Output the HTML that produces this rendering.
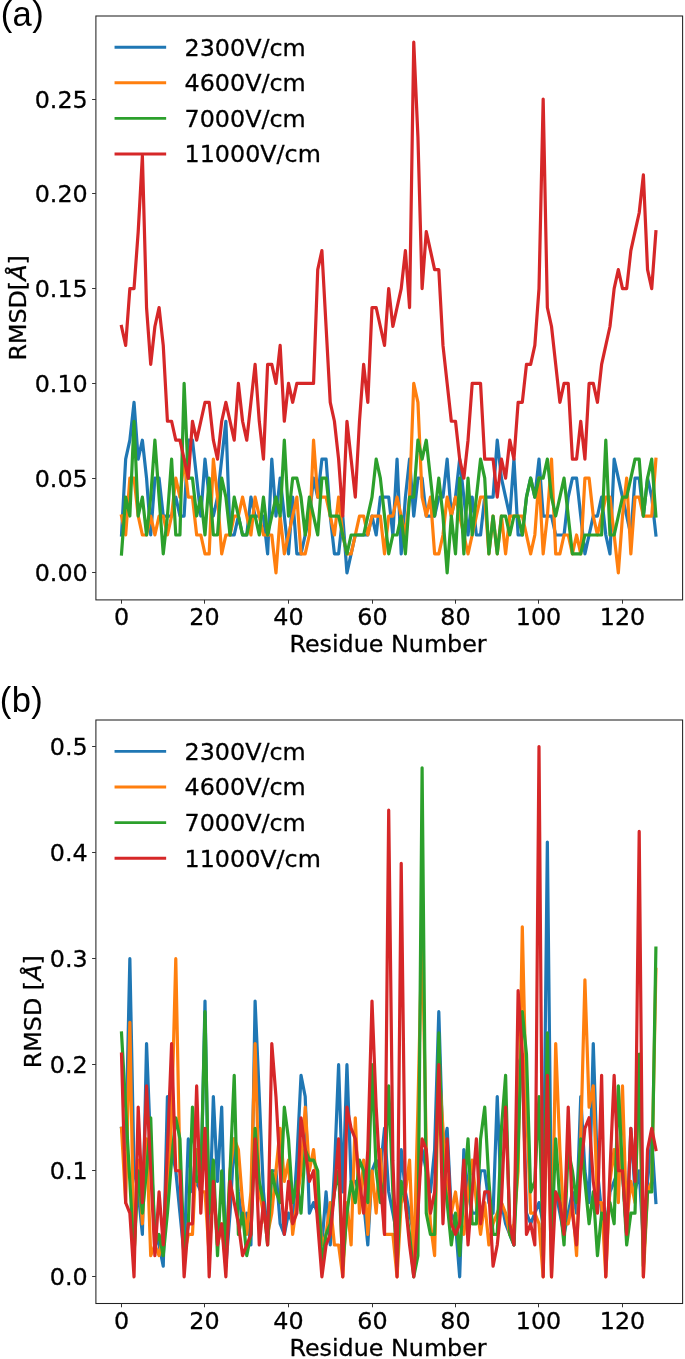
<!DOCTYPE html>
<html><head><meta charset="utf-8"><title>RMSD per residue</title>
<style>
html,body{margin:0;padding:0;background:#fff}
svg{display:block}
svg text{font-family:"DejaVu Sans","Liberation Sans",sans-serif;font-size:23.8px;fill:#000;stroke:#000;stroke-width:0.3px;stroke-linejoin:round}
</style></head><body>
<svg width="685" height="1359" viewBox="0 0 685 1359">
<defs><filter id="soft" x="0" y="0" width="100%" height="100%" filterUnits="userSpaceOnUse" color-interpolation-filters="sRGB"><feGaussianBlur stdDeviation="0.45"/></filter></defs>
<rect width="685" height="1359" fill="#fff"/>
<g filter="url(#soft)">
<polyline points="121.50,534.99 125.67,459.17 129.85,440.21 134.03,402.31 138.20,459.17 142.38,440.21 146.55,478.12 150.72,534.99 154.90,478.12 159.07,478.12 163.25,516.03 167.43,516.03 171.60,516.03 175.78,497.08 179.95,516.03 184.12,516.03 188.30,440.21 192.47,440.21 196.65,478.12 200.82,516.03 205.00,459.17 209.18,497.08 213.35,516.03 217.52,497.08 221.70,459.17 225.88,421.26 230.05,534.99 234.22,534.99 238.40,516.03 242.57,534.99 246.75,534.99 250.92,497.08 255.10,516.03 259.27,516.03 263.45,516.03 267.62,553.94 271.80,459.17 275.98,516.03 280.15,478.12 284.32,516.03 288.50,553.94 292.67,497.08 296.85,553.94 301.02,553.94 305.20,534.99 309.38,516.03 313.55,478.12 317.73,497.08 321.90,459.17 326.07,459.17 330.25,516.03 334.42,553.94 338.60,553.94 342.77,516.03 346.95,572.90 351.12,553.94 355.30,534.99 359.48,534.99 363.65,534.99 367.82,534.99 372.00,516.03 376.17,534.99 380.35,497.08 384.52,497.08 388.70,497.08 392.88,534.99 397.05,459.17 401.22,553.94 405.40,497.08 409.57,459.17 413.75,516.03 417.93,478.12 422.10,478.12 426.27,516.03 430.45,516.03 434.62,516.03 438.80,497.08 442.97,497.08 447.15,459.17 451.32,516.03 455.50,497.08 459.68,459.17 463.85,497.08 468.02,534.99 472.20,497.08 476.38,534.99 480.55,534.99 484.72,497.08 488.90,497.08 493.07,497.08 497.25,440.21 501.43,478.12 505.60,497.08 509.77,516.03 513.95,459.17 518.12,534.99 522.30,534.99 526.47,497.08 530.65,478.12 534.83,497.08 539.00,459.17 543.17,516.03 547.35,516.03 551.52,516.03 555.70,534.99 559.88,534.99 564.05,534.99 568.22,497.08 572.40,478.12 576.58,478.12 580.75,516.03 584.92,553.94 589.10,534.99 593.27,516.03 597.45,516.03 601.62,497.08 605.80,534.99 609.97,553.94 614.15,459.17 618.33,478.12 622.50,497.08 626.67,516.03 630.85,534.99 635.02,478.12 639.20,478.12 643.38,516.03 647.55,478.12 651.73,497.08 655.90,534.99" fill="none" stroke="#1f77b4" stroke-width="3.2" stroke-linejoin="round" stroke-linecap="square"/>
<polyline points="121.50,516.03 125.67,534.99 129.85,478.12 134.03,478.12 138.20,516.03 142.38,534.99 146.55,534.99 150.72,516.03 154.90,534.99 159.07,516.03 163.25,516.03 167.43,534.99 171.60,516.03 175.78,478.12 179.95,497.08 184.12,459.17 188.30,497.08 192.47,497.08 196.65,534.99 200.82,534.99 205.00,553.94 209.18,553.94 213.35,459.17 217.52,497.08 221.70,553.94 225.88,534.99 230.05,534.99 234.22,516.03 238.40,516.03 242.57,497.08 246.75,516.03 250.92,534.99 255.10,497.08 259.27,516.03 263.45,534.99 267.62,534.99 271.80,534.99 275.98,572.90 280.15,516.03 284.32,553.94 288.50,534.99 292.67,516.03 296.85,497.08 301.02,553.94 305.20,553.94 309.38,534.99 313.55,440.21 317.73,497.08 321.90,497.08 326.07,497.08 330.25,516.03 334.42,534.99 338.60,497.08 342.77,534.99 346.95,553.94 351.12,553.94 355.30,534.99 359.48,516.03 363.65,516.03 367.82,534.99 372.00,516.03 376.17,516.03 380.35,516.03 384.52,553.94 388.70,516.03 392.88,516.03 397.05,497.08 401.22,516.03 405.40,534.99 409.57,497.08 413.75,383.35 417.93,402.31 422.10,497.08 426.27,516.03 430.45,497.08 434.62,553.94 438.80,553.94 442.97,534.99 447.15,497.08 451.32,516.03 455.50,497.08 459.68,516.03 463.85,534.99 468.02,553.94 472.20,534.99 476.38,516.03 480.55,497.08 484.72,497.08 488.90,553.94 493.07,516.03 497.25,553.94 501.43,516.03 505.60,553.94 509.77,516.03 513.95,516.03 518.12,516.03 522.30,516.03 526.47,534.99 530.65,553.94 534.83,534.99 539.00,478.12 543.17,553.94 547.35,516.03 551.52,459.17 555.70,553.94 559.88,553.94 564.05,534.99 568.22,534.99 572.40,553.94 576.58,534.99 580.75,553.94 584.92,478.12 589.10,478.12 593.27,516.03 597.45,534.99 601.62,516.03 605.80,497.08 609.97,497.08 614.15,534.99 618.33,572.90 622.50,516.03 626.67,478.12 630.85,553.94 635.02,497.08 639.20,497.08 643.38,516.03 647.55,516.03 651.73,516.03 655.90,459.17" fill="none" stroke="#ff7f0e" stroke-width="3.2" stroke-linejoin="round" stroke-linecap="square"/>
<polyline points="121.50,553.94 125.67,497.08 129.85,516.03 134.03,421.26 138.20,516.03 142.38,497.08 146.55,534.99 150.72,497.08 154.90,440.21 159.07,497.08 163.25,553.94 167.43,516.03 171.60,459.17 175.78,534.99 179.95,534.99 184.12,383.35 188.30,478.12 192.47,478.12 196.65,516.03 200.82,497.08 205.00,534.99 209.18,478.12 213.35,534.99 217.52,534.99 221.70,478.12 225.88,497.08 230.05,534.99 234.22,497.08 238.40,516.03 242.57,534.99 246.75,534.99 250.92,516.03 255.10,516.03 259.27,534.99 263.45,497.08 267.62,534.99 271.80,516.03 275.98,497.08 280.15,516.03 284.32,440.21 288.50,516.03 292.67,478.12 296.85,478.12 301.02,497.08 305.20,534.99 309.38,497.08 313.55,516.03 317.73,534.99 321.90,478.12 326.07,478.12 330.25,516.03 334.42,516.03 338.60,516.03 342.77,534.99 346.95,553.94 351.12,534.99 355.30,534.99 359.48,534.99 363.65,534.99 367.82,516.03 372.00,497.08 376.17,459.17 380.35,478.12 384.52,516.03 388.70,553.94 392.88,534.99 397.05,534.99 401.22,516.03 405.40,553.94 409.57,497.08 413.75,497.08 417.93,440.21 422.10,459.17 426.27,440.21 430.45,478.12 434.62,516.03 438.80,478.12 442.97,516.03 447.15,572.90 451.32,516.03 455.50,553.94 459.68,478.12 463.85,553.94 468.02,478.12 472.20,534.99 476.38,497.08 480.55,459.17 484.72,478.12 488.90,553.94 493.07,516.03 497.25,553.94 501.43,516.03 505.60,516.03 509.77,534.99 513.95,516.03 518.12,516.03 522.30,534.99 526.47,497.08 530.65,478.12 534.83,497.08 539.00,478.12 543.17,478.12 547.35,459.17 551.52,497.08 555.70,516.03 559.88,497.08 564.05,478.12 568.22,516.03 572.40,553.94 576.58,553.94 580.75,553.94 584.92,534.99 589.10,534.99 593.27,534.99 597.45,534.99 601.62,534.99 605.80,440.21 609.97,534.99 614.15,534.99 618.33,516.03 622.50,497.08 626.67,497.08 630.85,478.12 635.02,459.17 639.20,459.17 643.38,516.03 647.55,478.12 651.73,459.17 655.90,516.03" fill="none" stroke="#2ca02c" stroke-width="3.2" stroke-linejoin="round" stroke-linecap="square"/>
<polyline points="121.50,326.49 125.67,345.44 129.85,288.57 134.03,288.57 138.20,231.71 142.38,155.89 146.55,307.53 150.72,364.39 154.90,326.49 159.07,307.53 163.25,345.44 167.43,421.26 171.60,421.26 175.78,440.21 179.95,440.21 184.12,459.17 188.30,478.12 192.47,421.26 196.65,440.21 200.82,421.26 205.00,402.31 209.18,402.31 213.35,440.21 217.52,459.17 221.70,421.26 225.88,402.31 230.05,421.26 234.22,440.21 238.40,383.35 242.57,421.26 246.75,440.21 250.92,402.31 255.10,364.39 259.27,421.26 263.45,459.17 267.62,364.39 271.80,364.39 275.98,383.35 280.15,345.44 284.32,421.26 288.50,383.35 292.67,402.31 296.85,383.35 301.02,383.35 305.20,383.35 309.38,383.35 313.55,383.35 317.73,269.62 321.90,250.67 326.07,326.49 330.25,402.31 334.42,421.26 338.60,459.17 342.77,516.03 346.95,421.26 351.12,459.17 355.30,497.08 359.48,421.26 363.65,364.39 367.82,402.31 372.00,307.53 376.17,307.53 380.35,326.49 384.52,345.44 388.70,288.57 392.88,326.49 397.05,307.53 401.22,288.57 405.40,250.67 409.57,307.53 413.75,42.16 417.93,136.94 422.10,288.57 426.27,231.71 430.45,250.67 434.62,269.62 438.80,269.62 442.97,345.44 447.15,383.35 451.32,421.26 455.50,421.26 459.68,459.17 463.85,478.12 468.02,440.21 472.20,383.35 476.38,383.35 480.55,383.35 484.72,459.17 488.90,459.17 493.07,459.17 497.25,497.08 501.43,459.17 505.60,478.12 509.77,440.21 513.95,459.17 518.12,402.31 522.30,402.31 526.47,364.39 530.65,364.39 534.83,345.44 539.00,288.57 543.17,99.03 547.35,307.53 551.52,326.49 555.70,364.39 559.88,402.31 564.05,383.35 568.22,383.35 572.40,459.17 576.58,459.17 580.75,421.26 584.92,459.17 589.10,383.35 593.27,383.35 597.45,402.31 601.62,364.39 605.80,345.44 609.97,326.49 614.15,288.57 618.33,269.62 622.50,288.57 626.67,288.57 630.85,250.67 635.02,231.71 639.20,212.75 643.38,174.85 647.55,269.62 651.73,288.57 655.90,231.71" fill="none" stroke="#d62728" stroke-width="3.2" stroke-linejoin="round" stroke-linecap="square"/>
<rect x="95.90" y="16.00" width="586.70" height="583.90" fill="none" stroke="#222" stroke-width="1.05"/>
<line x1="121.50" y1="599.90" x2="121.50" y2="603.70" stroke="#333" stroke-width="1"/>
<text x="121.50" y="625.10" text-anchor="middle">0</text>
<line x1="204.50" y1="599.90" x2="204.50" y2="603.70" stroke="#333" stroke-width="1"/>
<text x="204.50" y="625.10" text-anchor="middle">20</text>
<line x1="288.50" y1="599.90" x2="288.50" y2="603.70" stroke="#333" stroke-width="1"/>
<text x="288.50" y="625.10" text-anchor="middle">40</text>
<line x1="372.50" y1="599.90" x2="372.50" y2="603.70" stroke="#333" stroke-width="1"/>
<text x="372.50" y="625.10" text-anchor="middle">60</text>
<line x1="455.50" y1="599.90" x2="455.50" y2="603.70" stroke="#333" stroke-width="1"/>
<text x="455.50" y="625.10" text-anchor="middle">80</text>
<line x1="538.50" y1="599.90" x2="538.50" y2="603.70" stroke="#333" stroke-width="1"/>
<text x="538.50" y="625.10" text-anchor="middle">100</text>
<line x1="622.50" y1="599.90" x2="622.50" y2="603.70" stroke="#333" stroke-width="1"/>
<text x="622.50" y="625.10" text-anchor="middle">120</text>
<line x1="92.10" y1="572.50" x2="95.90" y2="572.50" stroke="#333" stroke-width="1"/>
<text x="87.70" y="581.20" text-anchor="end">0.00</text>
<line x1="92.10" y1="478.50" x2="95.90" y2="478.50" stroke="#333" stroke-width="1"/>
<text x="87.70" y="487.20" text-anchor="end">0.05</text>
<line x1="92.10" y1="383.50" x2="95.90" y2="383.50" stroke="#333" stroke-width="1"/>
<text x="87.70" y="392.20" text-anchor="end">0.10</text>
<line x1="92.10" y1="288.50" x2="95.90" y2="288.50" stroke="#333" stroke-width="1"/>
<text x="87.70" y="297.20" text-anchor="end">0.15</text>
<line x1="92.10" y1="193.50" x2="95.90" y2="193.50" stroke="#333" stroke-width="1"/>
<text x="87.70" y="202.20" text-anchor="end">0.20</text>
<line x1="92.10" y1="99.50" x2="95.90" y2="99.50" stroke="#333" stroke-width="1"/>
<text x="87.70" y="108.20" text-anchor="end">0.25</text>
<text x="388.05" y="651.90" text-anchor="middle" font-size="23.93">Residue Number</text>
<text transform="translate(26.00,307.95) rotate(-90)" text-anchor="middle">RMSD[<tspan font-style="italic">Å</tspan>]</text>
<line x1="116" y1="47.20" x2="164.7" y2="47.20" stroke="#1f77b4" stroke-width="2.9" stroke-linecap="square"/>
<text x="184.6" y="55.60" font-size="23.6">2300V/cm</text>
<line x1="116" y1="82.80" x2="164.7" y2="82.80" stroke="#ff7f0e" stroke-width="2.9" stroke-linecap="square"/>
<text x="184.6" y="91.20" font-size="23.6">4600V/cm</text>
<line x1="116" y1="118.40" x2="164.7" y2="118.40" stroke="#2ca02c" stroke-width="2.9" stroke-linecap="square"/>
<text x="184.6" y="126.80" font-size="23.6">7000V/cm</text>
<line x1="116" y1="154.00" x2="164.7" y2="154.00" stroke="#d62728" stroke-width="2.9" stroke-linecap="square"/>
<text x="184.6" y="162.40" font-size="23.6">11000V/cm</text>
<text x="0.7" y="26.00" style="font-family:'Liberation Sans',sans-serif;font-size:34.6px;letter-spacing:0.4px;stroke:none">(a)</text>
<polyline points="121.50,1128.34 125.67,1149.55 129.85,958.68 134.03,1170.76 138.20,1191.97 142.38,1234.38 146.55,1043.51 150.72,1149.55 154.90,1234.38 159.07,1244.99 163.25,1266.20 167.43,1096.53 171.60,1149.55 175.78,1170.76 179.95,1213.18 184.12,1255.59 188.30,1138.95 192.47,1191.97 196.65,1181.36 200.82,1191.97 205.00,1001.10 209.18,1234.38 213.35,1096.53 217.52,1181.36 221.70,1107.14 225.88,1266.20 230.05,1213.18 234.22,1138.95 238.40,1191.97 242.57,1223.78 246.75,1213.18 250.92,1244.99 255.10,1001.10 259.27,1096.53 263.45,1191.97 267.62,1234.38 271.80,1170.76 275.98,1170.76 280.15,1223.78 284.32,1234.38 288.50,1213.18 292.67,1223.78 296.85,1160.16 301.02,1075.32 305.20,1096.53 309.38,1213.18 313.55,1202.57 317.73,1213.18 321.90,1244.99 326.07,1191.97 330.25,1244.99 334.42,1170.76 338.60,1064.72 342.77,1191.97 346.95,1064.72 351.12,1181.36 355.30,1181.36 359.48,1191.97 363.65,1202.57 367.82,1244.99 372.00,1170.76 376.17,1160.16 380.35,1170.76 384.52,1128.34 388.70,1191.97 392.88,1213.18 397.05,1234.38 401.22,1149.55 405.40,1191.97 409.57,1213.18 413.75,1234.38 417.93,1191.97 422.10,1149.55 426.27,1170.76 430.45,1191.97 434.62,1149.55 438.80,1011.70 442.97,1149.55 447.15,1128.34 451.32,1213.18 455.50,1223.78 459.68,1276.80 463.85,1149.55 468.02,1191.97 472.20,1213.18 476.38,1213.18 480.55,1170.76 484.72,1170.76 488.90,1202.57 493.07,1213.18 497.25,1096.53 501.43,1202.57 505.60,1223.78 509.77,1234.38 513.95,1244.99 518.12,1064.72 522.30,1054.12 526.47,1213.18 530.65,1223.78 534.83,1213.18 539.00,1202.57 543.17,1223.78 547.35,842.04 551.52,1223.78 555.70,1191.97 559.88,1213.18 564.05,1234.38 568.22,1213.18 572.40,1191.97 576.58,1213.18 580.75,1096.53 584.92,1170.76 589.10,1202.57 593.27,1043.51 597.45,1170.76 601.62,1213.18 605.80,1234.38 609.97,1191.97 614.15,1181.36 618.33,1170.76 622.50,1170.76 626.67,1234.38 630.85,1128.34 635.02,1191.97 639.20,1170.76 643.38,1244.99 647.55,1181.36 651.73,1138.95 655.90,1202.57" fill="none" stroke="#1f77b4" stroke-width="3.2" stroke-linejoin="round" stroke-linecap="square"/>
<polyline points="121.50,1128.34 125.67,1202.57 129.85,1022.30 134.03,1255.59 138.20,1160.16 142.38,1223.78 146.55,1138.95 150.72,1255.59 154.90,1244.99 159.07,1255.59 163.25,1234.38 167.43,1202.57 171.60,1117.74 175.78,958.68 179.95,1170.76 184.12,1255.59 188.30,1234.38 192.47,1234.38 196.65,1149.55 200.82,1191.97 205.00,1191.97 209.18,1255.59 213.35,1181.36 217.52,1244.99 221.70,1223.78 225.88,1266.20 230.05,1170.76 234.22,1138.95 238.40,1149.55 242.57,1202.57 246.75,1234.38 250.92,1191.97 255.10,1043.51 259.27,1191.97 263.45,1213.18 267.62,1234.38 271.80,1213.18 275.98,1170.76 280.15,1128.34 284.32,1181.36 288.50,1160.16 292.67,1234.38 296.85,1202.57 301.02,1170.76 305.20,1107.14 309.38,1170.76 313.55,1149.55 317.73,1191.97 321.90,1244.99 326.07,1234.38 330.25,1202.57 334.42,1244.99 338.60,1244.99 342.77,1276.80 346.95,1202.57 351.12,1244.99 355.30,1117.74 359.48,1213.18 363.65,1160.16 367.82,1234.38 372.00,1170.76 376.17,1213.18 380.35,1149.55 384.52,1234.38 388.70,1234.38 392.88,1234.38 397.05,1276.80 401.22,1202.57 405.40,1191.97 409.57,1160.16 413.75,1266.20 417.93,1107.14 422.10,926.87 426.27,1149.55 430.45,1223.78 434.62,1255.59 438.80,1064.72 442.97,1128.34 447.15,1191.97 451.32,1213.18 455.50,1191.97 459.68,1223.78 463.85,1234.38 468.02,1191.97 472.20,1160.16 476.38,1202.57 480.55,1234.38 484.72,1202.57 488.90,1244.99 493.07,1223.78 497.25,1213.18 501.43,1202.57 505.60,1213.18 509.77,1234.38 513.95,1223.78 518.12,1170.76 522.30,926.87 526.47,1107.14 530.65,1213.18 534.83,1213.18 539.00,1223.78 543.17,1276.80 547.35,1075.32 551.52,1276.80 555.70,1043.51 559.88,1149.55 564.05,1223.78 568.22,1223.78 572.40,1202.57 576.58,1255.59 580.75,1138.95 584.92,979.89 589.10,1107.14 593.27,1085.93 597.45,1202.57 601.62,1202.57 605.80,1276.80 609.97,1181.36 614.15,1149.55 618.33,1202.57 622.50,1085.93 626.67,1223.78 630.85,1181.36 635.02,1202.57 639.20,1064.72 643.38,1276.80 647.55,1191.97 651.73,1181.36 655.90,969.28" fill="none" stroke="#ff7f0e" stroke-width="3.2" stroke-linejoin="round" stroke-linecap="square"/>
<polyline points="121.50,1032.91 125.67,1107.14 129.85,1181.36 134.03,1255.59 138.20,1170.76 142.38,1213.18 146.55,1170.76 150.72,1117.74 154.90,1244.99 159.07,1234.38 163.25,1255.59 167.43,1213.18 171.60,1160.16 175.78,1117.74 179.95,1138.95 184.12,1255.59 188.30,1223.78 192.47,1107.14 196.65,1181.36 200.82,1181.36 205.00,1011.70 209.18,1213.18 213.35,1160.16 217.52,1255.59 221.70,1170.76 225.88,1255.59 230.05,1170.76 234.22,1075.32 238.40,1234.38 242.57,1213.18 246.75,1255.59 250.92,1234.38 255.10,1128.34 259.27,1181.36 263.45,1202.57 267.62,1244.99 271.80,1170.76 275.98,1191.97 280.15,1202.57 284.32,1107.14 288.50,1138.95 292.67,1202.57 296.85,1181.36 301.02,1213.18 305.20,1149.55 309.38,1160.16 313.55,1160.16 317.73,1170.76 321.90,1266.20 326.07,1234.38 330.25,1223.78 334.42,1191.97 338.60,1170.76 342.77,1266.20 346.95,1213.18 351.12,1181.36 355.30,1202.57 359.48,1160.16 363.65,1170.76 367.82,1202.57 372.00,1064.72 376.17,1170.76 380.35,1202.57 384.52,1181.36 388.70,1085.93 392.88,1191.97 397.05,1266.20 401.22,1181.36 405.40,1202.57 409.57,1234.38 413.75,1276.80 417.93,1255.59 422.10,767.81 426.27,1213.18 430.45,1234.38 434.62,1234.38 438.80,1032.91 442.97,1170.76 447.15,1202.57 451.32,1244.99 455.50,1213.18 459.68,1255.59 463.85,1191.97 468.02,1138.95 472.20,1223.78 476.38,1223.78 480.55,1138.95 484.72,1107.14 488.90,1181.36 493.07,1234.38 497.25,1234.38 501.43,1128.34 505.60,1075.32 509.77,1234.38 513.95,1244.99 518.12,1149.55 522.30,1011.70 526.47,1054.12 530.65,1191.97 534.83,1181.36 539.00,1096.53 543.17,1255.59 547.35,1032.91 551.52,1244.99 555.70,1138.95 559.88,1202.57 564.05,1244.99 568.22,1149.55 572.40,1170.76 576.58,1202.57 580.75,1138.95 584.92,1181.36 589.10,1223.78 593.27,1191.97 597.45,1255.59 601.62,1213.18 605.80,1223.78 609.97,1202.57 614.15,1223.78 618.33,1085.93 622.50,1170.76 626.67,1244.99 630.85,1213.18 635.02,1213.18 639.20,1054.12 643.38,1266.20 647.55,1191.97 651.73,1191.97 655.90,948.08" fill="none" stroke="#2ca02c" stroke-width="3.2" stroke-linejoin="round" stroke-linecap="square"/>
<polyline points="121.50,1054.12 125.67,1202.57 129.85,1213.18 134.03,1276.80 138.20,1107.14 142.38,1202.57 146.55,1085.93 150.72,1170.76 154.90,1255.59 159.07,1191.97 163.25,1244.99 167.43,1149.55 171.60,1043.51 175.78,1170.76 179.95,1170.76 184.12,1276.80 188.30,1223.78 192.47,1223.78 196.65,1085.93 200.82,1213.18 205.00,1128.34 209.18,1276.80 213.35,1181.36 217.52,1244.99 221.70,1223.78 225.88,1276.80 230.05,1181.36 234.22,1202.57 238.40,1223.78 242.57,1255.59 246.75,1244.99 250.92,1234.38 255.10,1138.95 259.27,1244.99 263.45,1202.57 267.62,1244.99 271.80,1043.51 275.98,1096.53 280.15,1170.76 284.32,1234.38 288.50,1181.36 292.67,1223.78 296.85,1213.18 301.02,1117.74 305.20,1149.55 309.38,1181.36 313.55,1170.76 317.73,1223.78 321.90,1276.80 326.07,1244.99 330.25,1234.38 334.42,1191.97 338.60,1138.95 342.77,1276.80 346.95,1107.14 351.12,1128.34 355.30,1138.95 359.48,1181.36 363.65,1213.18 367.82,1149.55 372.00,1001.10 376.17,1107.14 380.35,1181.36 384.52,1234.38 388.70,810.22 392.88,1160.16 397.05,1276.80 401.22,863.24 405.40,1202.57 409.57,1244.99 413.75,1276.80 417.93,1213.18 422.10,1138.95 426.27,1149.55 430.45,1213.18 434.62,1191.97 438.80,1064.72 442.97,1223.78 447.15,1138.95 451.32,1223.78 455.50,1234.38 459.68,1223.78 463.85,1160.16 468.02,1244.99 472.20,1191.97 476.38,1138.95 480.55,1223.78 484.72,1191.97 488.90,1191.97 493.07,1266.20 497.25,1244.99 501.43,1202.57 505.60,1107.14 509.77,1223.78 513.95,1244.99 518.12,990.49 522.30,1054.12 526.47,1234.38 530.65,1223.78 534.83,1244.99 539.00,746.60 543.17,1276.80 547.35,1075.32 551.52,1276.80 555.70,1191.97 559.88,1202.57 564.05,1234.38 568.22,1107.14 572.40,1213.18 576.58,1244.99 580.75,1170.76 584.92,1128.34 589.10,1117.74 593.27,1181.36 597.45,1213.18 601.62,1075.32 605.80,1276.80 609.97,1170.76 614.15,1075.32 618.33,1170.76 622.50,1170.76 626.67,1234.38 630.85,1128.34 635.02,1181.36 639.20,831.43 643.38,1276.80 647.55,1149.55 651.73,1128.34 655.90,1149.55" fill="none" stroke="#d62728" stroke-width="3.2" stroke-linejoin="round" stroke-linecap="square"/>
<rect x="95.90" y="720.00" width="586.70" height="583.50" fill="none" stroke="#222" stroke-width="1.05"/>
<line x1="121.50" y1="1303.50" x2="121.50" y2="1307.30" stroke="#333" stroke-width="1"/>
<text x="121.50" y="1328.70" text-anchor="middle">0</text>
<line x1="204.50" y1="1303.50" x2="204.50" y2="1307.30" stroke="#333" stroke-width="1"/>
<text x="204.50" y="1328.70" text-anchor="middle">20</text>
<line x1="288.50" y1="1303.50" x2="288.50" y2="1307.30" stroke="#333" stroke-width="1"/>
<text x="288.50" y="1328.70" text-anchor="middle">40</text>
<line x1="372.50" y1="1303.50" x2="372.50" y2="1307.30" stroke="#333" stroke-width="1"/>
<text x="372.50" y="1328.70" text-anchor="middle">60</text>
<line x1="455.50" y1="1303.50" x2="455.50" y2="1307.30" stroke="#333" stroke-width="1"/>
<text x="455.50" y="1328.70" text-anchor="middle">80</text>
<line x1="538.50" y1="1303.50" x2="538.50" y2="1307.30" stroke="#333" stroke-width="1"/>
<text x="538.50" y="1328.70" text-anchor="middle">100</text>
<line x1="622.50" y1="1303.50" x2="622.50" y2="1307.30" stroke="#333" stroke-width="1"/>
<text x="622.50" y="1328.70" text-anchor="middle">120</text>
<line x1="92.10" y1="1276.50" x2="95.90" y2="1276.50" stroke="#333" stroke-width="1"/>
<text x="87.70" y="1285.20" text-anchor="end">0.0</text>
<line x1="92.10" y1="1170.50" x2="95.90" y2="1170.50" stroke="#333" stroke-width="1"/>
<text x="87.70" y="1179.20" text-anchor="end">0.1</text>
<line x1="92.10" y1="1064.50" x2="95.90" y2="1064.50" stroke="#333" stroke-width="1"/>
<text x="87.70" y="1073.20" text-anchor="end">0.2</text>
<line x1="92.10" y1="958.50" x2="95.90" y2="958.50" stroke="#333" stroke-width="1"/>
<text x="87.70" y="967.20" text-anchor="end">0.3</text>
<line x1="92.10" y1="852.50" x2="95.90" y2="852.50" stroke="#333" stroke-width="1"/>
<text x="87.70" y="861.20" text-anchor="end">0.4</text>
<line x1="92.10" y1="746.50" x2="95.90" y2="746.50" stroke="#333" stroke-width="1"/>
<text x="87.70" y="755.20" text-anchor="end">0.5</text>
<text x="388.05" y="1355.50" text-anchor="middle" font-size="23.93">Residue Number</text>
<text transform="translate(40.90,1011.75) rotate(-90)" text-anchor="middle">RMSD [<tspan font-style="italic">Å</tspan>]</text>
<line x1="116" y1="751.40" x2="164.7" y2="751.40" stroke="#1f77b4" stroke-width="2.9" stroke-linecap="square"/>
<text x="184.6" y="759.80" font-size="23.6">2300V/cm</text>
<line x1="116" y1="787.00" x2="164.7" y2="787.00" stroke="#ff7f0e" stroke-width="2.9" stroke-linecap="square"/>
<text x="184.6" y="795.40" font-size="23.6">4600V/cm</text>
<line x1="116" y1="822.60" x2="164.7" y2="822.60" stroke="#2ca02c" stroke-width="2.9" stroke-linecap="square"/>
<text x="184.6" y="831.00" font-size="23.6">7000V/cm</text>
<line x1="116" y1="858.20" x2="164.7" y2="858.20" stroke="#d62728" stroke-width="2.9" stroke-linecap="square"/>
<text x="184.6" y="866.60" font-size="23.6">11000V/cm</text>
<text x="-0.2" y="711.60" style="font-family:'Liberation Sans',sans-serif;font-size:34.6px;letter-spacing:0.4px;stroke:none">(b)</text>
</g>
</svg>
</body></html>
